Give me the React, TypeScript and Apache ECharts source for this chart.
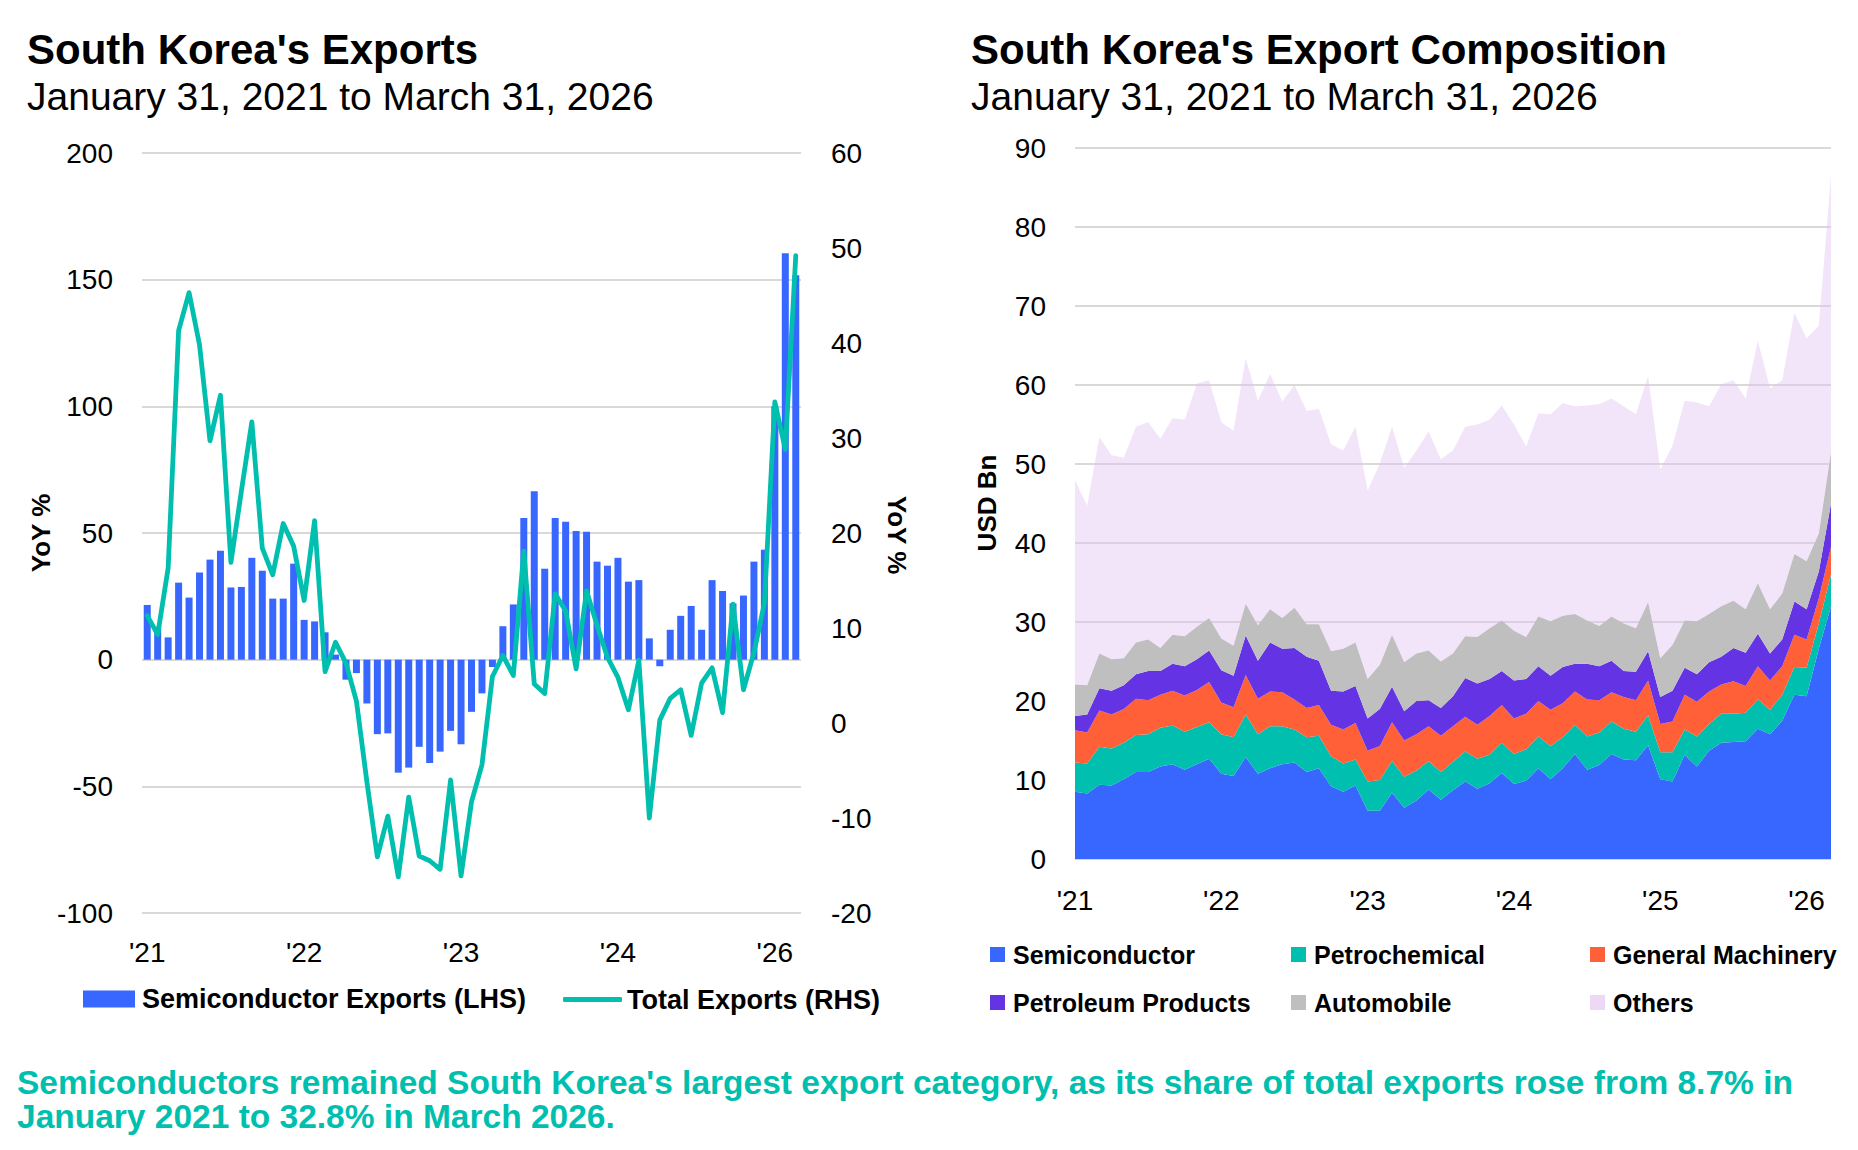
import React, { useEffect, useRef } from 'react';
import * as echarts from 'echarts';

const FONT = '"Liberation Sans", Arial, Helvetica, sans-serif';
const BLUE = '#3767FF';
const TEAL = '#00BFAE';
const ORANGE = '#FF6038';
const PURPLE = '#6433E4';
const GRAY = '#BFBFBF';
const LAVENDER = '#EDD8F6';
const GRID_COLOR = '#D9D9D9';

// Monthly categories, Jan 2021 – Mar 2026
const months: string[] = [
  '2021-01', '2021-02', '2021-03', '2021-04', '2021-05', '2021-06', '2021-07', '2021-08', '2021-09', '2021-10', '2021-11', '2021-12',
  '2022-01', '2022-02', '2022-03', '2022-04', '2022-05', '2022-06', '2022-07', '2022-08', '2022-09', '2022-10', '2022-11', '2022-12',
  '2023-01', '2023-02', '2023-03', '2023-04', '2023-05', '2023-06', '2023-07', '2023-08', '2023-09', '2023-10', '2023-11', '2023-12',
  '2024-01', '2024-02', '2024-03', '2024-04', '2024-05', '2024-06', '2024-07', '2024-08', '2024-09', '2024-10', '2024-11', '2024-12',
  '2025-01', '2025-02', '2025-03', '2025-04', '2025-05', '2025-06', '2025-07', '2025-08', '2025-09', '2025-10', '2025-11', '2025-12',
  '2026-01', '2026-02', '2026-03',
];

// Left panel: YoY % changes
const semiconductorYoY = [
  21.6, 13.0, 8.8, 30.4, 24.5, 34.4, 39.5, 43.0, 28.5, 28.7, 40.2, 35.1,
  24.1, 24.1, 37.9, 15.7, 15.1, 10.8, 2.0, -7.9, -5.3, -17.3, -29.4, -29.1,
  -44.6, -42.6, -34.4, -40.8, -36.3, -28.1, -33.4, -20.6, -13.3, -2.9, 13.2, 21.8,
  55.9, 66.5, 35.9, 55.9, 54.4, 50.8, 50.5, 38.7, 37.1, 40.2, 30.8, 31.4,
  8.4, -2.6, 11.8, 17.3, 21.2, 11.8, 31.4, 27.1, 22.2, 25.3, 38.7, 43.4,
  100.0, 160.4, 151.7,
];

const totalExportsYoY = [
  11.3, 9.3, 16.3, 41.3, 45.3, 39.8, 29.7, 34.5, 16.9, 24.4, 31.7, 18.4,
  15.6, 21.0, 18.6, 12.9, 21.3, 5.4, 8.5, 6.3, 2.3, -6.2, -14.1, -9.8,
  -16.2, -7.8, -14.0, -14.5, -15.4, -6.0, -16.1, -8.3, -4.4, 4.9, 7.1, 5.0,
  18.1, 4.1, 3.1, 13.6, 11.8, 5.7, 13.9, 10.3, 6.9, 4.8, 1.4, 6.6,
  -10.0, 0.3, 2.6, 3.5, -1.3, 4.2, 5.8, 1.1, 12.5, 3.5, 7.4, 12.6,
  33.8, 28.8, 49.2,
];

// Right panel: export values by category, USD Bn
const semiconductor = [
  8.5, 8.3, 9.4, 9.3, 10.1, 11.0, 11.0, 11.7, 12.0, 11.3, 12.0, 12.7,
  10.8, 10.5, 12.9, 10.8, 11.5, 12.0, 12.2, 11.0, 11.5, 9.2, 8.5, 9.3,
  6.1, 6.1, 8.4, 6.5, 7.4, 8.8, 7.5, 8.7, 9.8, 8.9, 9.6, 10.9,
  9.5, 9.9, 11.5, 10.1, 11.5, 13.3, 11.3, 11.9, 13.3, 12.6, 12.5, 14.4,
  10.1, 9.8, 13.2, 11.7, 13.7, 14.7, 14.8, 14.9, 16.5, 15.8, 17.5, 20.8,
  20.6, 26.6, 32.0,
];

const petrochemical = [
  3.7, 3.8, 4.8, 4.7, 4.6, 4.7, 4.8, 4.9, 4.9, 4.8, 4.7, 4.6,
  5.0, 4.9, 5.4, 5.0, 5.3, 4.8, 4.2, 4.4, 4.1, 3.8, 3.6, 3.3,
  3.7, 3.9, 4.0, 3.9, 3.8, 3.6, 3.5, 3.6, 3.8, 3.8, 3.6, 3.8,
  3.8, 4.0, 4.0, 4.2, 3.9, 3.7, 4.2, 4.1, 4.1, 3.9, 3.6, 3.8,
  3.4, 3.7, 3.2, 3.8, 3.4, 3.7, 3.6, 3.6, 3.7, 3.1, 3.3, 3.5,
  3.6, 3.2, 4.0,
];

const generalMachinery = [
  4.1, 3.9, 4.6, 4.3, 4.3, 4.6, 4.3, 4.2, 4.4, 4.6, 4.7, 5.1,
  4.0, 3.8, 5.0, 4.5, 4.4, 4.3, 3.8, 3.7, 3.9, 4.0, 4.3, 4.6,
  3.9, 4.3, 4.9, 4.6, 4.6, 4.4, 4.6, 4.5, 4.4, 4.3, 4.9, 4.8,
  4.5, 4.5, 4.5, 4.6, 4.3, 4.2, 4.7, 4.1, 3.7, 4.0, 4.0, 4.4,
  3.6, 3.9, 4.4, 4.4, 4.1, 3.7, 4.1, 3.4, 4.2, 3.7, 3.6, 4.1,
  3.6, 3.2, 3.5,
];

const petroleumProducts = [
  1.8, 2.3, 2.8, 3.0, 3.0, 3.1, 3.7, 3.0, 3.4, 3.7, 3.9, 4.0,
  4.1, 4.0, 5.0, 4.8, 6.2, 5.5, 6.5, 6.5, 5.6, 4.3, 4.8, 4.7,
  4.1, 4.7, 4.5, 3.7, 4.2, 3.3, 3.5, 3.8, 4.9, 5.2, 4.7, 4.3,
  4.8, 4.4, 4.4, 4.3, 4.6, 3.5, 4.5, 4.3, 4.0, 3.3, 3.6, 3.7,
  3.4, 3.9, 3.4, 3.5, 3.7, 3.5, 4.2, 4.2, 4.1, 3.4, 3.4, 4.2,
  3.8, 3.4, 5.5,
];

const automobile = [
  4.0, 3.7, 4.4, 4.0, 3.4, 4.0, 4.0, 2.9, 3.7, 3.8, 4.1, 4.1,
  4.0, 3.8, 4.0, 4.5, 4.2, 3.9, 5.1, 4.1, 4.6, 5.0, 5.4, 5.5,
  5.0, 5.6, 6.6, 6.2, 6.0, 6.3, 5.9, 5.4, 5.3, 5.9, 6.4, 6.4,
  6.3, 5.3, 6.3, 6.9, 6.5, 6.3, 5.5, 5.1, 5.6, 6.0, 5.5, 6.2,
  4.9, 5.8, 6.0, 6.7, 6.1, 6.4, 6.0, 5.5, 6.4, 5.6, 5.8, 6.0,
  6.1, 4.8, 6.5,
];

const others = [
  25.8, 22.7, 27.4, 25.8, 25.4, 27.3, 27.5, 26.5, 27.4, 27.4, 30.8, 30.1,
  27.4, 27.2, 31.1, 28.4, 29.8, 27.4, 28.2, 27.0, 27.3, 26.2, 25.1, 27.3,
  23.8, 25.5, 26.3, 24.6, 25.7, 27.7, 25.6, 25.7, 26.5, 26.9, 26.4, 27.2,
  26.1, 24.1, 25.7, 26.2, 26.9, 26.3, 27.2, 28.1, 27.6, 27.5, 27.1, 28.6,
  23.9, 25.2, 27.8, 27.7, 26.3, 28.1, 27.9, 26.7, 30.7, 28.0, 27.0, 30.5,
  28.2, 26.3, 35.0,
];

const compositionSeries = [
  { name: 'Semiconductor', data: semiconductor, color: BLUE },
  { name: 'Petrochemical', data: petrochemical, color: TEAL },
  { name: 'General Machinery', data: generalMachinery, color: ORANGE },
  { name: 'Petroleum Products', data: petroleumProducts, color: PURPLE },
  { name: 'Automobile', data: automobile, color: GRAY },
  { name: 'Others', data: others, color: LAVENDER },
];

const CAPTION =
  "Semiconductors remained South Korea's largest export category, as its share of total exports rose from 8.7% in\n" +
  'January 2021 to 32.8% in March 2026.';

const yearLabel = (v: string) => "'" + v.slice(2, 4);

const axisText = { fontFamily: FONT, fontSize: 28, color: '#000' };

function textEl(text: string, x: number, y: number, font: string, fill = '#000', extra: any = {}) {
  const { align, lineHeight, ...rest } = extra;
  return {
    type: 'text',
    x,
    y,
    ...rest,
    style: {
      text,
      font,
      fill,
      lineHeight,
      align: align || 'left',
      textAlign: align || 'left',
      verticalAlign: 'middle',
      textVerticalAlign: 'middle',
    },
  };
}

function legendCol(names: string[], left: number) {
  return {
    orient: 'vertical',
    left,
    top: 942,
    padding: 0,
    itemWidth: 15,
    itemHeight: 15,
    itemGap: 23,
    selectedMode: false,
    icon: 'rect',
    data: names,
    textStyle: {
      fontFamily: FONT,
      fontSize: 25,
      fontWeight: 'bold',
      color: '#000',
      lineHeight: 25,
      padding: [0, 0, 0, 3],
    },
  };
}

export default function App() {
  const ref = useRef<HTMLDivElement>(null);

  useEffect(() => {
    const chart = echarts.init(ref.current!, null, { renderer: 'svg' });
    const option: any = {
      animation: false,
      backgroundColor: '#fff',
      textStyle: { fontFamily: FONT },
      grid: [
        { left: 142, top: 153, width: 659, height: 760 },
        { left: 1075, top: 148, width: 756, height: 711 },
      ],
      xAxis: [
        {
          type: 'category',
          gridIndex: 0,
          data: months,
          boundaryGap: true,
          axisLine: { show: false },
          axisTick: { show: false },
          axisLabel: { ...axisText, interval: 14, formatter: yearLabel, margin: 25 },
        },
        {
          type: 'category',
          gridIndex: 1,
          data: months,
          boundaryGap: false,
          axisLine: { show: false },
          axisTick: { show: false },
          axisLabel: { ...axisText, interval: 11, formatter: yearLabel, margin: 27.5 },
        },
      ],
      yAxis: [
        {
          type: 'value',
          gridIndex: 0,
          position: 'left',
          min: -100,
          max: 200,
          interval: 50,
          axisLine: { show: false },
          axisTick: { show: false },
          splitLine: { lineStyle: { color: GRID_COLOR, width: 2 } },
          axisLabel: { ...axisText, margin: 29 },
        },
        {
          type: 'value',
          gridIndex: 0,
          position: 'right',
          min: -20,
          max: 60,
          interval: 10,
          axisLine: { show: false },
          axisTick: { show: false },
          splitLine: { show: false },
          axisLabel: { ...axisText, margin: 30 },
        },
        {
          type: 'value',
          gridIndex: 1,
          min: 0,
          max: 90,
          interval: 10,
          axisLine: { show: false },
          axisTick: { show: false },
          splitLine: { lineStyle: { color: GRID_COLOR, width: 2 } },
          axisLabel: { ...axisText, margin: 29 },
        },
      ],
      legend: [
        {
          left: 83,
          top: 985.5,
          padding: 0,
          itemWidth: 52,
          itemHeight: 17,
          selectedMode: false,
          data: [{ name: 'Semiconductor Exports (LHS)', icon: 'rect' }],
          textStyle: { fontFamily: FONT, fontSize: 27, fontWeight: 'bold', color: '#000', padding: [0, 0, 0, 2] },
        },
        {
          left: 563,
          top: 986,
          padding: 0,
          itemWidth: 59,
          itemHeight: 5,
          selectedMode: false,
          data: [{ name: 'Total Exports (RHS)', icon: 'roundRect' }],
          textStyle: { fontFamily: FONT, fontSize: 27, fontWeight: 'bold', color: '#000' },
        },
        legendCol(['Semiconductor', 'Petroleum Products'], 990),
        legendCol(['Petrochemical', 'Automobile'], 1291),
        legendCol(['General Machinery', 'Others'], 1590),
      ],
      series: [
        {
          name: 'Semiconductor Exports (LHS)',
          type: 'bar',
          xAxisIndex: 0,
          yAxisIndex: 0,
          data: semiconductorYoY,
          barWidth: 7,
          itemStyle: { color: BLUE },
        },
        {
          name: 'Total Exports (RHS)',
          type: 'line',
          xAxisIndex: 0,
          yAxisIndex: 1,
          data: totalExportsYoY,
          symbol: 'none',
          z: 5,
          itemStyle: { color: TEAL },
          lineStyle: { color: TEAL, width: 4.8, join: 'round', cap: 'round' },
        },
        ...compositionSeries.map((s) => ({
          name: s.name,
          type: 'line',
          xAxisIndex: 1,
          yAxisIndex: 2,
          stack: 'composition',
          data: s.data,
          symbol: 'none',
          itemStyle: { color: s.color },
          lineStyle: { width: 0 },
          areaStyle: s.name === 'Others'
            ? { color: 'rgba(225, 190, 240, 0.6)' }
            : { color: s.color, opacity: 1 },
        })),
      ],
      graphic: [
        textEl("South Korea's Exports", 27, 49, `bold 42px ${FONT}`),
        textEl('January 31, 2021 to March 31, 2026', 27, 96, `39px ${FONT}`),
        textEl("South Korea's Export Composition", 971, 49, `bold 42px ${FONT}`),
        textEl('January 31, 2021 to March 31, 2026', 971, 96, `39px ${FONT}`),
        textEl('YoY %', 41, 533, `bold 26px ${FONT}`, '#000', { rotation: Math.PI / 2, align: 'center' }),
        textEl('YoY %', 897, 535, `bold 26px ${FONT}`, '#000', { rotation: -Math.PI / 2, align: 'center' }),
        textEl('USD Bn', 987, 503, `bold 26px ${FONT}`, '#000', { rotation: Math.PI / 2, align: 'center' }),
        textEl(CAPTION, 17, 1099.5, `bold 33.5px ${FONT}`, TEAL, { lineHeight: 34 }),
      ],
    };
    chart.setOption(option);
    return () => chart.dispose();
  }, []);

  return (
    <div
      ref={ref}
      style={{ position: 'fixed', left: 0, top: 0, width: 1858, height: 1150, background: '#fff' }}
    />
  );
}
